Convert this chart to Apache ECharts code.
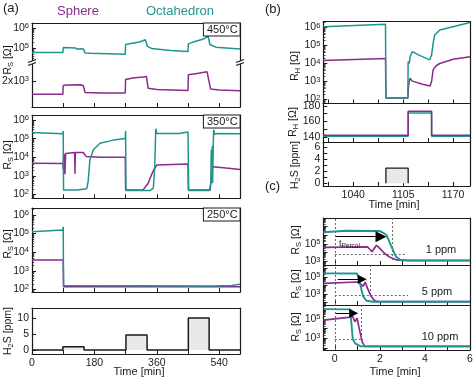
<!DOCTYPE html>
<html><head><meta charset="utf-8">
<script src="https://cdn.jsdelivr.net/npm/echarts@6/dist/echarts.min.js"></script>
<style>html,body{margin:0;padding:0;background:#fff}#c{width:474px;height:379px}</style>
</head><body><div id="c"></div>
<script>
// ================= DATA =================
// ---- (a) time axis (min) ----
var aTimeTicks = [0, 90, 180, 270, 360, 450, 540];
var aTimeLabels = [0, 180, 360, 540];
// 450 °C : octahedron (log, upper part) / sphere (linear, lower part) [time, Ohm]
var oct450 = [[0,5.9e4],[89,5.9e4],[90,1.05e5],[125,1.0e5],[132,8.6e4],[138,9.2e4],[143,8.4e4],[148,9.0e4],[153,5.6e4],[170,5.4e4],[269,4.9e4],[270,1.5e5],[285,1.7e5],[310,2.0e5],[327,2.6e5],[333,1.2e5],[345,9.5e4],[400,7.5e4],[450,6.6e4],[451,1.6e5],[458,1.8e5],[470,2.1e5],[495,2.8e5],[508,4.0e5],[513,1.5e5],[530,1.1e5],[600,9.0e4]];
var sph450 = [[0,1490],[89,1490],[90,1830],[100,1850],[140,1860],[148,1820],[153,1560],[200,1540],[269,1540],[270,2060],[290,2120],[320,2160],[330,2180],[335,1720],[360,1680],[450,1640],[451,2250],[480,2300],[505,2360],[510,2360],[515,1700],[540,1660],[600,1630]];
// 350 °C
var oct350 = [[0,2.1e5],[88,1.8e5],[90,2.6e5],[91,1.7e2],[130,1.7e2],[158,2.0e2],[162,5e2],[167,7e3],[177,2.5e4],[196,5.6e4],[235,8.3e4],[269,1.0e5],[270,2.6e5],[271,1.6e2],[340,1.6e2],[350,2.2e2],[354,3e3],[357,3.4e5],[360,1.9e5],[425,1.9e5],[428,2.3e5],[450,2.3e5],[451,2.6e5],[452,1.6e2],[512,1.6e2],[516,4e2],[517,2.5e4],[518,5e2],[520,4e4],[521,4e2],[523,6e4],[524,3e5],[527,1.7e5],[535,1.9e5],[600,1.8e5]];
var sph350 = [[0,4.7e3],[89,4.6e3],[90,2.2e3],[91,1.3e4],[92,1.3e3],[94,1.5e4],[95,1.2e3],[97,1.6e4],[110,1.7e4],[123,1.8e4],[124,1.3e3],[125,1.8e4],[148,1.8e4],[156,1.1e4],[200,1.0e4],[269,9.8e3],[270,1.7e2],[320,1.7e2],[335,4e2],[348,1.6e3],[352,2.2e3],[360,3.8e3],[450,4.3e3],[451,1.7e2],[514,1.7e2],[519,3.1e3],[560,2.6e3],[600,2.2e3]];
// 250 °C
var oct250 = [[0,1.25e5],[88,1.55e5],[90,2.3e5],[91,1.6e2],[300,1.55e2],[520,1.5e2],[575,1.6e2],[600,1.9e2]];
var sph250 = [[0,3.8e3],[90,3.8e3],[91,1.4e2],[600,1.4e2]];
// H2S pulses (ppm)
var h2sA = [[0,0],[89,0],[89,1],[150,1],[150,0],[271,0],[271,4.7],[332,4.7],[332,0],[451,0],[451,10],[511,10],[511,0],[600,0]];

// ---- (b) ----
var bTimeTicks = [1007.5, 1040, 1072.5, 1105, 1137.5, 1170];
var bTimeLabels = [1040, 1105, 1170];
var octB = [[1001,1.1e6],[1082,1.5e6],[1082.5,1.2e2],[1111,1.2e2],[1111.5,1.3e4],[1113,1.0e4],[1114,2.5e4],[1117,4.6e4],[1125,3.0e4],[1139.5,1.6e4],[1142,3.0e4],[1144,1.3e5],[1146,3.8e5],[1152.7,7.2e5],[1192,1.9e6]];
var sphB = [[1001,1.45e4],[1082,1.9e4],[1082.5,1.2e2],[1111,1.2e2],[1112,6e2],[1113.7,1.5e3],[1117,1.05e3],[1130,7e2],[1140,5.6e2],[1142,1.0e3],[1144,4.4e3],[1148,7.5e3],[1152.7,1.0e4],[1170,1.7e4],[1192,2.4e4]];
var octRH = [[1001,141.3],[1111.5,141.3],[1111.5,171],[1142,171],[1142,141.3],[1192,141.3]];
var sphRH = [[1001,142.5],[1111.5,142.5],[1111.5,173],[1142,173],[1142,142.5],[1192,142.5]];
var rhLabels = [140, 160, 180];
var h2sB = [[1082.5,0],[1082.5,2.5],[1111.5,2.5],[1111.5,0]];

// ---- (c) ----
var cTimeTicks = [0, 1, 2, 3, 4, 5, 6];
var cTimeLabels = [0, 2, 4, 6];
var oct1 = [[-0.5,2.2e6],[0.5,3.2e6],[2.0,3.0e6],[2.15,1.9e6],[2.3,1.0e6],[2.5,6.3e4],[2.7,4e3],[2.9,1.6e3],[3.3,1.3e3],[6,1.3e3]];
var sph1 = [[-0.5,4.2e4],[1.45,4.8e4],[1.65,1.3e4],[1.85,7e4],[2.0,3.2e4],[2.2,8.7e3],[2.45,3e3],[2.75,1.5e3],[3.0,1.3e3],[6,1.3e3]];
var oct5 = [[-0.5,2.7e5],[0.98,2.6e5],[1.05,1.0e5],[1.15,8e3],[1.25,6e2],[1.4,1.6e2],[1.7,1.25e2],[6,1.25e2]];
var sph5 = [[-0.5,1.8e4],[1.0,2.6e4],[1.15,1.5e4],[1.25,8e3],[1.35,2.4e4],[1.45,5e3],[1.6,6e2],[1.75,1.8e2],[1.9,1.25e2],[6,1.25e2]];
var oct10 = [[-0.5,1.05e6],[0.68,1.0e6],[0.74,3.5e4],[0.8,8e2],[0.92,2.8e2],[1.15,1.45e2],[6,1.45e2]];
var sph10 = [[-0.5,7.8e4],[0.6,1.5e5],[0.8,1.8e5],[0.89,5.2e4],[0.99,1.2e5],[1.1,7e3],[1.22,4e2],[1.33,1.45e2],[6,1.45e2]];
var percolT = [2.56, 1.56, 1.19];          // t_Percol (min)
var threshR = [7.2e3, 7.6e2, 7.2e2];       // threshold resistance (Ohm)
var threshEnd = [3.2, 3.25, 1.25];         // end of dashed threshold line (min)
var arrowFrom = [0.05, 0.13, 0.05];
var arrowTo = [2.05, 1.22, 0.84];
var arrowR = [6.8e5, 5.4e4, 4e5];
var ppmLabels = ['1 ppm', '5 ppm', '10 ppm'];

// ================= BUILD =================
var FONT = '"Liberation Sans", Arial, Helvetica, sans-serif';
var TEAL = '#1f958e', MAG = '#8b2b8b', INK = '#1a1a1a';
var grids = [], xAxes = [], yAxes = [], series = [], panels = {};
var richSup = { s: { fontSize: 7.5, fontFamily: FONT, color: INK, verticalAlign: 'top', lineHeight: 8 } };
function powLabel(v){ return '10{s|' + Math.round(v) + '}'; }
function plain(v){ return String(Math.round(v * 100) / 100); }
function L(arr){ return arr.map(function(p){ return [p[0], Math.log10(p[1])]; }); }
function ints(a,b){ var r=[]; for(var i=a;i<=b;i++) r.push(i); return r; }
function minors(lo,hi){ var r=[]; for(var e=Math.floor(lo); e<=Math.floor(hi); e++) for(var k=2;k<=9;k++){ var v=e+Math.log10(k); if(v>lo&&v<hi) r.push(v);} return r; }

function panel(name, o){
  var gi = grids.length;
  grids.push({left:o.l, top:o.t, width:o.w, height:o.h, show:false, containLabel:false, outerBoundsMode:'none'});
  var lineS = {show:true, onZero:false, lineStyle:{color:INK, width:1.2}};
  var noLine = {show:false, onZero:false};
  var xi = xAxes.length;
  xAxes.push({gridIndex:gi, type:'value', position:'bottom', min:o.x0, max:o.x1,
    axisLine: o.noBottom ? noLine : lineS,
    axisTick: {show: !o.noBottom, inside:true, length:4, interval:0, customValues:o.xt, lineStyle:{color:INK, width:1}},
    axisLabel: o.xl ? {show:true, interval:0, customValues:o.xl, formatter:plain, margin:4, color:INK, fontSize:10.5, fontFamily:FONT,
      showMinLabel:true, showMaxLabel:true, hideOverlap:false} : {show:false},
    splitLine:{show:false}});
  xAxes.push({gridIndex:gi, type:'value', position:'top', min:o.x0, max:o.x1,
    axisLine: o.noTop ? noLine : lineS, axisTick:{show:false}, axisLabel:{show:false}, splitLine:{show:false}});
  var yi = yAxes.length;
  yAxes.push({gridIndex:gi, type:'value', position:'left', min:o.y0, max:o.y1,
    axisLine:lineS, axisTick:{show:true, inside:true, length:4, interval:0, customValues:o.yt, lineStyle:{color:INK, width:1}},
    axisLabel:{show:false}, splitLine:{show:false}});
  yAxes.push({gridIndex:gi, type:'value', position:'right', min:o.y0, max:o.y1,
    axisLine:lineS, axisTick:{show:false}, axisLabel:{show:false}, splitLine:{show:false}});
  if (o.ym) yAxes.push({gridIndex:gi, type:'value', position:'left', min:o.y0, max:o.y1,
    axisLine:{show:false, onZero:false}, axisTick:{show:true, inside:true, length:2.2, interval:0, customValues:o.ym, lineStyle:{color:INK, width:0.8}},
    axisLabel:{show:false}, splitLine:{show:false}});
  o.yl.forEach(function(v){
    var yl = {show:true, interval:0, customValues:[v], margin:3, color:INK, fontSize:10.5, fontFamily:FONT, lineHeight:12,
      showMinLabel:true, showMaxLabel:true, hideOverlap:false, formatter: o.yf || plain, rich: richSup};
    yAxes.push({gridIndex:gi, type:'value', position:'left', min:o.y0, max:o.y1,
      axisLine:{show:false, onZero:false}, axisTick:{show:false}, axisLabel:yl, splitLine:{show:false}});
  });
  panels[name] = {xi:xi, yi:yi, o:o};
}
function addLine(pn, data, color, w){
  var p = panels[pn];
  series.push({type:'line', xAxisIndex:p.xi, yAxisIndex:p.yi, data:data, showSymbol:false, symbol:'none',
    lineStyle:{color:color, width:w||1.5}, itemStyle:{color:color}, animation:false, silent:true, z:3});
}
function addSegs(pn, segs, style, sym, symSize, z){
  var p = panels[pn];
  series.push({type:'lines', coordinateSystem:'cartesian2d', xAxisIndex:p.xi, yAxisIndex:p.yi, silent:true, animation:false,
    symbol: sym || ['none','none'], symbolSize: symSize || 6, lineStyle: style, z: z||1,
    data: segs.map(function(s){ return {coords:s}; })});
}

// ---- panel (a) ----
var AL = 32, AW = 208;
panel('a450u', {l:AL, t:23, w:AW, h:40, x0:0, x1:600, noBottom:true, xt:[], y0:4.25, y1:6.25, yl:[5,6], yt:[5,6], ym:minors(4.25,6.25), yf:powLabel});
panel('a450l', {l:AL, t:63, w:AW, h:44, x0:0, x1:600, noTop:true, xt:aTimeTicks, y0:1000, y1:2700, yl:[2000], yt:[2000],
  yf:function(v){ return '2x10{s|3}'; }});
panel('a350', {l:AL, t:115, w:AW, h:83.3, x0:0, x1:600, xt:aTimeTicks, y0:1.79, y1:6.27, yl:ints(2,6), yt:ints(2,6), ym:minors(1.79,6.27), yf:powLabel});
panel('a250', {l:AL, t:208, w:AW, h:84, x0:0, x1:600, xt:aTimeTicks, y0:1.86, y1:6.376, yl:ints(2,6), yt:ints(2,6), ym:minors(1.86,6.376), yf:powLabel});
panel('aH2S', {l:AL, t:308, w:AW, h:46, x0:0, x1:600, xt:aTimeTicks, xl:aTimeLabels, y0:-1.25, y1:13.1, yl:[0,5,10], yt:[0,5,10]});

addLine('a450u', L(oct450), TEAL);
addLine('a450l', sph450, MAG);
addLine('a350', L(sph350), MAG);
addLine('a350', L(oct350), TEAL);
addLine('a250', L(sph250), MAG);
addLine('a250', L(oct250), TEAL);
var ph = panels['aH2S'];
series.push({type:'line', xAxisIndex:ph.xi, yAxisIndex:ph.yi, data:h2sA, showSymbol:false, symbol:'none', animation:false, silent:true,
  lineStyle:{color:INK, width:1.5}, areaStyle:{color:'#e9e9e9', opacity:1}, z:3});

// ---- panel (b) ----
var BL = 323.3, BW = 146.7;
var B2 = {t:103.5, h:38.5, y0:134, y1:183};
panel('b1', {l:BL, t:21.5, w:BW, h:82, x0:1001, x1:1192, xt:bTimeTicks, y0:1.78, y1:6.33, yl:ints(2,6), yt:ints(2,6), ym:minors(1.78,6.33), yf:powLabel});
panel('b2', {l:BL, t:B2.t, w:BW, h:B2.h, x0:1001, x1:1192, xt:bTimeTicks, y0:B2.y0, y1:B2.y1, yl:[], yt:[140,150,160,170,180]});
panel('b3', {l:BL, t:142, w:BW, h:44, x0:1001, x1:1192, xt:bTimeTicks, xl:bTimeLabels, y0:-0.44, y1:6.8, yl:[0,2,4,6], yt:ints(0,6)});
addLine('b1', L(sphB), MAG);
addLine('b1', L(octB), TEAL);
addLine('b2', octRH, TEAL);
addLine('b2', sphRH, MAG);
var pb = panels['b3'];
series.push({type:'line', xAxisIndex:pb.xi, yAxisIndex:pb.yi, data:h2sB, showSymbol:false, symbol:'none', animation:false, silent:true,
  lineStyle:{color:INK, width:1.3}, areaStyle:{color:'#e9e9e9', opacity:1}, z:3});

// ---- panel (c) ----
var CL = 323.5, CW = 146.5;
var cSpecs = [
  {n:'c1', t:218, h:47, y0:2.6, y1:7.97, oct:oct1, sph:sph1},
  {n:'c2', t:265, h:40, y0:1.71, y1:6.41, oct:oct5, sph:sph5},
  {n:'c3', t:305, h:45, y0:1.79, y1:6.45, oct:oct10, sph:sph10}
];
var dotted = {color:'#6a6a6a', width:1, type:[2,2], opacity:1};
cSpecs.forEach(function(s, i){
  panel(s.n, {l:CL, t:s.t, w:CW, h:s.h, x0:-0.5, x1:6, xt:cTimeTicks, xl: i===2 ? cTimeLabels : null,
    y0:s.y0, y1:s.y1, yl:[3,5], yt:ints(Math.ceil(s.y0), Math.floor(s.y1)), ym:minors(s.y0, s.y1), yf:powLabel});
  var th = Math.log10(threshR[i]);
  addSegs(s.n, [
    [[0, s.y0], [0, s.y1]],
    [[percolT[i], s.y1], [percolT[i], i===0 ? 3.1 : th]],
    [[0, th], [threshEnd[i], th]]
  ], dotted, null, null, 1);
  addLine(s.n, L(s.sph), MAG, 1.7);
  addLine(s.n, L(s.oct), TEAL, 1.9);
  var ay = Math.log10(arrowR[i]);
  addSegs(s.n, [[[arrowFrom[i], ay], [arrowTo[i], ay]]], {color:'#000', width:1, type:'solid', opacity:1},
    ['none','triangle'], i===0 ? [6,11] : [6,9], 5);
});

// ---- graphic texts ----
function T(x, y, text, o){
  o = o || {};
  return {type:'text', x:x, y:y, rotation:o.rot||0, silent:true, z:10,
    style:{text:text, fill:o.color||INK, fontSize:o.size||11, fontFamily:FONT,
      align:o.align||'left', textAlign:o.align||'left', verticalAlign:o.va||'top', textVerticalAlign:o.va||'top',
      rich:o.rich, backgroundColor:o.bg, borderColor:o.bc, borderWidth:o.bw, padding:o.pad}};
}
var richSub = { sub: { fontSize: 7.5, fontFamily: FONT, fill: INK, color: INK, verticalAlign: 'bottom', lineHeight: 14 } };
function ytitle(x, y, text){ return T(x, y, text, {rot:Math.PI/2, align:'center', va:'middle', size:10.5, rich:richSub}); }
function tempBox(y, text){ return T(239.6, y, text, {align:'right', size:11, bg:'#fff', bc:INK, bw:1, pad:[1,2,0,3]}); }
function brk(x, y){
  return [
    {type:'rect', shape:{x:x-4, y:y-2, width:8, height:3}, style:{fill:'#fff'}, silent:true, z:11},
    {type:'line', shape:{x1:x-4, y1:y-0.5, x2:x+4, y2:y-3.5}, style:{stroke:INK, lineWidth:1.2}, silent:true, z:12},
    {type:'line', shape:{x1:x-4, y1:y+2.5, x2:x+4, y2:y-0.5}, style:{stroke:INK, lineWidth:1.2}, silent:true, z:12}
  ];
}
// R_H tick labels of the middle (b) panel, placed at the axis scale position of each value
var rhTexts = rhLabels.map(function(v){
  var y = B2.t + (B2.y1 - v) / (B2.y1 - B2.y0) * B2.h;
  return T(BL - 3, y, String(v), {align:'right', va:'middle', size:10.5});
});
var graphics = [
  T(3, 2, '(a)', {size:13}),
  T(265, 3, '(b)', {size:13}),
  T(265, 180, '(c)', {size:13}),
  T(57, 5, 'Sphere', {size:13, color:MAG}),
  T(146, 5, 'Octahedron', {size:13, color:TEAL}),
  tempBox(23.5, '450°C'), tempBox(115.5, '350°C'), tempBox(208.5, '250°C'),
  ytitle(8, 60, 'R{sub|S} [Ω]'), ytitle(8, 155, 'R{sub|S} [Ω]'), ytitle(8, 244, 'R{sub|S} [Ω]'), ytitle(8, 331, 'H{sub|2}S [ppm]'),
  ytitle(295, 66, 'R{sub|H} [Ω]'), ytitle(293, 122, 'R{sub|H} [Ω]'), ytitle(295, 165, 'H{sub|2}S [ppm]'),
  ytitle(296, 240, 'R{sub|S} [Ω]'), ytitle(296, 284, 'R{sub|S} [Ω]'), ytitle(296, 327, 'R{sub|S} [Ω]'),
  T(139, 372, 'Time [min]', {align:'center', va:'middle', size:11}),
  T(394, 205, 'Time [min]', {align:'center', va:'middle', size:11}),
  T(395, 372, 'Time [min]', {align:'center', va:'middle', size:11}),
  T(441, 250, ppmLabels[0], {align:'center', va:'middle', size:11}),
  T(437, 292, ppmLabels[1], {align:'center', va:'middle', size:11}),
  T(440, 337, ppmLabels[2], {align:'center', va:'middle', size:11}),
  T(339, 238, 't{sub|Percol}', {size:9, rich:{sub:{fontSize:6.5, fontFamily:FONT, verticalAlign:'bottom', lineHeight:12}}})
].concat(rhTexts, brk(32, 63), brk(240, 63));

var chart = echarts.init(document.getElementById('c'), null, {renderer:'canvas'});
chart.setOption({
  animation:false,
  backgroundColor:'#fff',
  textStyle:{fontFamily:FONT},
  grid:grids, xAxis:xAxes, yAxis:yAxes, series:series, graphic:graphics
});
</script></body></html>
